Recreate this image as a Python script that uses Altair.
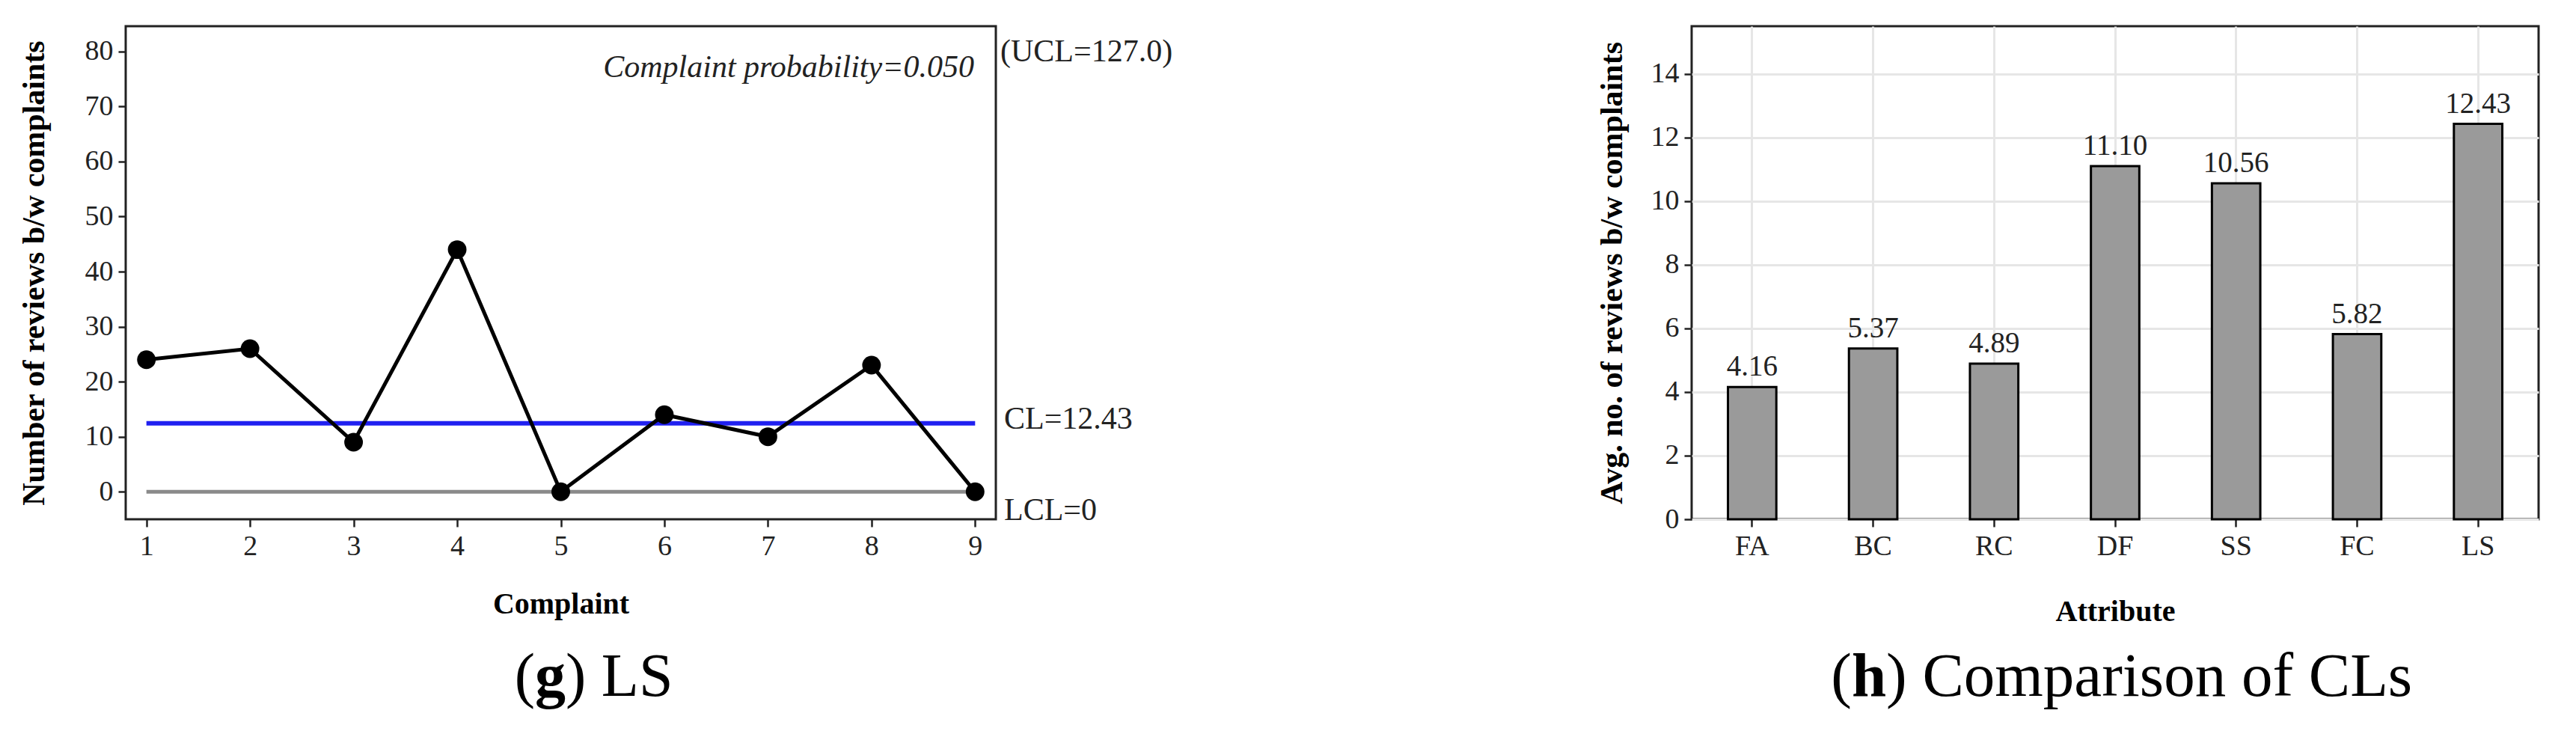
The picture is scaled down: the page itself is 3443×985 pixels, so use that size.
import altair as alt
import pandas as pd

# ---------------- data ----------------
complaint = [1, 2, 3, 4, 5, 6, 7, 8, 9]
reviews = [24, 26, 9, 44, 0, 14, 10, 23, 0]
cl_value = 12.43
lcl_value = 0
ucl_value = 127.0
complaint_prob = 0.050

attributes = ["FA", "BC", "RC", "DF", "SS", "FC", "LS"]
avg_reviews = [4.16, 5.37, 4.89, 11.10, 10.56, 5.82, 12.43]

left_ticks = [0, 10, 20, 30, 40, 50, 60, 70, 80]
right_ticks = [0, 2, 4, 6, 8, 10, 12, 14]

FONT = "Liberation Serif"
W_L, W_R, H = 1163, 1132, 659

df_left = pd.DataFrame({"complaint": complaint, "reviews": reviews})
df_rules = pd.DataFrame({
    "start": [complaint[0], complaint[0]],
    "end": [complaint[-1], complaint[-1]],
    "value": [cl_value, lcl_value],
    "kind": ["CL", "LCL"],
})
df_right = pd.DataFrame({"attribute": attributes, "avg": avg_reviews})
one = pd.DataFrame({"k": [0]})


# ---------------- left panel ----------------
def xr(field):
    return alt.X(field, title="Complaint",
                 scale=alt.Scale(domain=[0.8, 9.2], nice=False, zero=False),
                 axis=alt.Axis(values=complaint, format="d", titlePadding=38, grid=False))


def yr(field):
    return alt.Y(field, title="Number of reviews b/w complaints",
                 scale=alt.Scale(domain=[-5, 84.6], nice=False, zero=False),
                 axis=alt.Axis(values=left_ticks, titlePadding=46, grid=False, titleFontSize=42))


xL = xr("complaint:Q")
yL = yr("reviews:Q")

lcl_rule = alt.Chart(df_rules[df_rules.kind == "LCL"]).mark_rule(
    color="#8a8a8a", strokeWidth=5).encode(x=xr("start:Q"), x2="end:Q", y=yr("value:Q"))
cl_rule = alt.Chart(df_rules[df_rules.kind == "CL"]).mark_rule(
    color="#2020f0", strokeWidth=6).encode(x=xr("start:Q"), x2="end:Q", y=yr("value:Q"))
line = alt.Chart(df_left).mark_line(color="black", strokeWidth=5).encode(x=xL, y=yL)
pts = alt.Chart(df_left).mark_circle(color="black", size=620, opacity=1).encode(x=xL, y=yL)

cl_label = alt.Chart(df_rules[df_rules.kind == "CL"]).mark_text(
    align="left", baseline="alphabetic", dy=7, font=FONT, fontSize=42, color="#222"
).encode(x=alt.value(W_L + 11), y=yr("value:Q"), text=alt.value(f"CL={cl_value:.2f}"))
lcl_label = alt.Chart(df_rules[df_rules.kind == "LCL"]).mark_text(
    align="left", baseline="alphabetic", dy=38, font=FONT, fontSize=42, color="#222"
).encode(x=alt.value(W_L + 11), y=yr("value:Q"), text=alt.value(f"LCL={lcl_value}"))
ucl_label = alt.Chart(one).mark_text(
    align="left", baseline="alphabetic", font=FONT, fontSize=42, color="#222"
).encode(x=alt.value(W_L + 6), y=alt.value(47), text=alt.value(f"(UCL={ucl_value:.1f})"))
prob_label = alt.Chart(one).mark_text(
    align="right", baseline="alphabetic", font=FONT, fontSize=42, fontStyle="italic", color="#222"
).encode(x=alt.value(1134), y=alt.value(68),
         text=alt.value(f"Complaint probability={complaint_prob:.3f}"))

cap_y = 895
capL1 = alt.Chart(one).mark_text(align="right", baseline="alphabetic", font=FONT, fontSize=82,
                                 color="black").encode(x=alt.value(547), y=alt.value(cap_y), text=alt.value("("))
capL2 = alt.Chart(one).mark_text(align="left", baseline="alphabetic", font=FONT, fontSize=82,
                                 fontWeight="bold", color="black").encode(x=alt.value(547), y=alt.value(cap_y), text=alt.value("g"))
capL3 = alt.Chart(one).mark_text(align="left", baseline="alphabetic", font=FONT, fontSize=82,
                                 color="black").encode(x=alt.value(588), y=alt.value(cap_y), text=alt.value(") LS"))

left = alt.layer(lcl_rule, cl_rule, line, pts, cl_label, lcl_label, ucl_label, prob_label,
                 capL1, capL2, capL3).properties(width=W_L, height=H)

# ---------------- right panel ----------------
xR = alt.X("attribute:N", sort=attributes, title="Attribute",
           scale=alt.Scale(paddingInner=0.6, paddingOuter=0.3),
           axis=alt.Axis(grid=True, labelAngle=0, titlePadding=48))
yR = alt.Y("avg:Q", title="Avg. no. of reviews b/w complaints",
           scale=alt.Scale(domain=[0, 15.5], nice=False),
           axis=alt.Axis(values=right_ticks, grid=True, titlePadding=30, titleFontSize=42))

bars = alt.Chart(df_right).mark_bar(color="#9a9a9a", stroke="black", strokeWidth=3).encode(x=xR, y=yR)
bar_text = alt.Chart(df_right).mark_text(
    baseline="alphabetic", dy=-15, font=FONT, fontSize=39, color="#222"
).encode(x=xR, y=yR, text=alt.Text("avg:Q", format=".2f"))

capR1 = alt.Chart(one).mark_text(align="right", baseline="alphabetic", font=FONT, fontSize=83,
                                 color="black").encode(x=alt.value(214), y=alt.value(cap_y), text=alt.value("("))
capR2 = alt.Chart(one).mark_text(align="left", baseline="alphabetic", font=FONT, fontSize=83,
                                 fontWeight="bold", color="black").encode(x=alt.value(214), y=alt.value(cap_y), text=alt.value("h"))
capR3 = alt.Chart(one).mark_text(align="left", baseline="alphabetic", font=FONT, fontSize=83,
                                 color="black").encode(x=alt.value(260), y=alt.value(cap_y),
                                                       text=alt.value(") Comparison of CLs"))

right = alt.layer(bars, bar_text, capR1, capR2, capR3).properties(width=W_R, height=H)

chart = alt.hconcat(left, right, spacing=562).properties(
    padding={"left": 14, "top": 25, "right": 0, "bottom": 5}, background="white"
).configure_view(
    stroke="#222", strokeWidth=3
).configure_axis(
    labelFont=FONT, titleFont=FONT, labelFontSize=38, titleFontSize=40,
    labelColor="#222", titleColor="black", titleFontWeight="bold",
    tickColor="#222", tickSize=10, tickWidth=2.5, labelPadding=7,
    domain=False, gridColor="#e6e6e6", gridWidth=3,
)

chart.save("out.html", embed_options={"renderer": "svg", "actions": False})
